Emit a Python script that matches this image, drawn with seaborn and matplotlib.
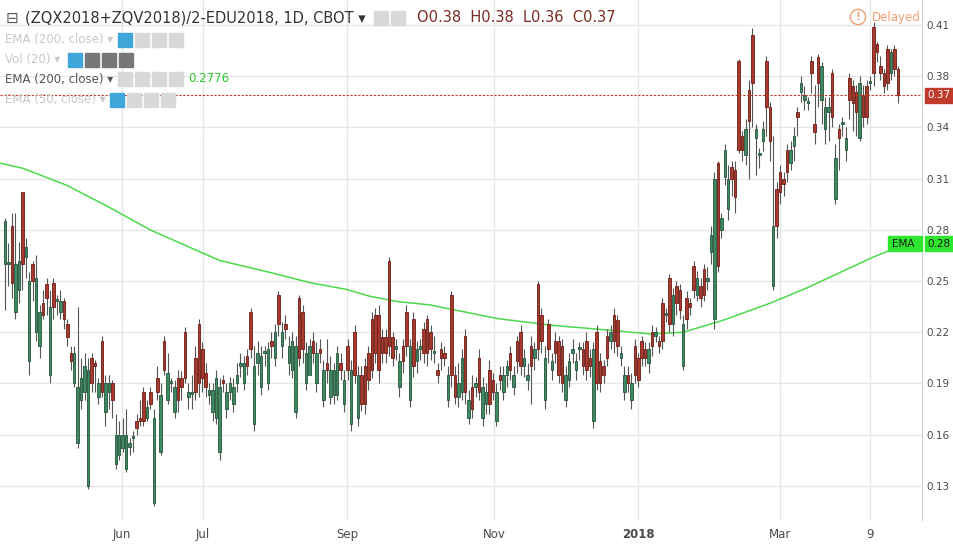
import numpy as np
import pandas as pd
import seaborn as sns
import matplotlib.pyplot as plt
from matplotlib.patches import Rectangle

# prices in thousandths (one row per daily bar)
opens = [270,270,292,242,255,312,274,213,270,230, 222,247,258,205,259,248,242,248,235,218,
         200,165,190,195,140,215,212,192,225,183, 195,200,153,158,162,150,163,168,178,180,
         195,180,195,130,203,160,225,190,200,183, 203,203,230,192,194,215,235,220,206,193,
         183,180,160,202,185,195,188,200,210,200, 216,242,176,212,198,218,200,225,215,252,
         222,235,212,208,183,250,242,200,205,225, 200,220,190,212,192,193,193,212,188,222,
         176,230,180,205,210,218,238,240,240,227, 227,272,227,220,198,222,242,190,238,213,
         220,232,238,230,218,208,220,218,190,252, 205,192,195,228,180,198,198,215,180,188,
         208,202,178,205,195,205,218,198,225,230, 210,202,222,215,258,240,190,235,208,225,
         225,222,190,202,218,208,220,220,225,215, 178,230,213,210,228,225,240,237,215,195,
         205,190,222,215,225,220,212,230,228,225, 247,240,262,235,257,255,210,250,247,269,
         252,257,267,260,277,238,329,290,321,302, 327,325,389,345,334,372,404,344,334,342,
         389,362,257,314,324,320,337,329,339,359, 371,366,364,389,352,391,366,349,359,382,
         308,349,352,337,379,374,371,344,369,374, 376,409,399,386,382,396,382,396,384]
closes = [295,270,259,270,272,270,280,260,260,262, 242,240,250,245,245,248,248,238,227,213,
          218,198,203,210,208,200,210,200,195,200, 200,190,170,170,170,170,165,168,174,178,
          178,186,188,180,195,193,208,206,200,198, 190,198,203,195,194,195,200,203,198,196,
          196,203,198,200,195,200,198,205,212,212, 210,220,210,218,216,218,220,222,230,235,
          230,232,222,225,222,215,220,218,222,218, 218,218,208,208,208,208,218,208,202,208,
          208,205,205,188,188,202,208,218,208,218, 218,222,215,222,213,213,222,222,210,220,
          222,218,218,220,218,205,215,215,205,205, 192,200,215,195,190,185,200,195,198,195,
          188,195,195,202,205,210,208,205,213,210, 215,205,210,220,220,225,215,220,213,218,
          205,200,205,213,220,213,220,210,208,210, 220,200,200,205,215,230,225,222,218,205,
          200,200,205,202,215,215,220,222,230,222, 225,240,235,252,247,243,235,238,245,255,
          262,250,252,262,287,320,269,297,337,320, 320,309,337,337,349,354,376,349,334,349,
          362,342,292,292,312,317,324,337,345,356, 376,369,364,382,347,376,386,362,362,356,
          332,344,352,344,366,364,359,376,356,356, 376,382,394,382,374,376,394,384,369]
highs = [297,282,300,300,283,312,285,265,272,275, 246,255,262,255,262,252,255,250,238,222,
         222,245,215,218,215,218,214,203,228,205, 205,202,182,178,180,185,168,172,182,190,
         198,190,198,185,210,200,228,218,203,202, 208,207,233,200,205,222,238,224,212,200,
         200,208,203,205,200,204,203,212,218,216, 220,244,222,225,222,222,224,230,235,254,
         236,240,228,230,228,252,246,224,226,230, 224,226,214,226,216,212,222,218,208,226,
         214,234,210,210,215,222,242,244,246,232, 232,274,230,226,218,226,246,226,242,225,
         226,236,240,234,228,212,224,222,210,254, 210,212,220,232,196,205,204,220,204,200,
         214,206,200,210,210,214,222,210,228,234, 220,212,228,224,260,244,222,238,218,230,
         228,226,210,218,226,218,224,224,230,220, 224,234,218,214,232,234,244,240,222,210,
         210,206,226,218,228,224,224,234,233,228, 250,244,264,256,260,258,240,254,250,272,
         266,262,270,268,292,324,330,300,340,328, 330,330,390,348,355,378,408,352,338,354,
         392,365,345,318,328,324,340,342,350,362, 380,374,368,392,375,393,388,368,368,384,
         340,352,356,350,382,378,375,380,375,378, 380,412,400,392,384,398,396,398,386]
lows = [243,257,250,238,247,255,262,205,248,225, 215,238,240,200,238,240,238,232,222,208,
        198,162,185,190,138,195,195,188,192,175, 185,180,150,155,160,148,158,160,170,175,
        175,178,185,128,190,158,205,188,195,180, 183,190,200,185,185,190,192,195,192,188,
        178,176,155,195,180,190,183,195,204,196, 205,215,172,205,193,210,196,215,210,228,
        215,226,205,203,180,210,212,196,210,212, 195,212,186,200,188,188,190,202,183,202,
        172,200,175,184,182,196,203,212,200,212, 212,216,210,214,192,206,216,186,204,206,
        214,212,210,214,212,200,208,210,186,198, 188,186,190,188,176,180,192,190,175,182,
        182,190,175,196,190,198,202,193,206,205, 204,196,188,208,214,218,185,212,202,212,
        200,195,186,198,212,202,214,205,202,204, 174,196,195,200,210,220,218,216,210,190,
        195,185,200,198,210,210,206,216,224,218, 220,236,230,228,240,238,208,232,240,250,
        248,245,248,255,270,232,265,285,316,296, 310,300,335,330,328,320,350,322,326,336,
        345,330,255,285,305,310,318,325,330,345, 365,360,360,370,340,362,352,340,342,350,
        305,325,345,330,355,348,345,342,350,352, 372,374,388,378,370,372,378,380,364]

# EMA(200) line read at a few bar positions
ema_idx = [-1.4, 5.2, 17.9, 30.3, 41.9, 56.4, 62.1, 76.6, 88.2, 98.8, 105.5, 113.3, 122.8,
           142.2, 158.4, 175.7, 186.4, 196, 207.5, 221.1, 231.8, 241.3, 250.9, 255.8]
ema_val = [329, 326, 316, 303, 290, 277, 272, 265, 259, 255, 251, 248, 246,
           238, 234, 231, 229, 230, 237, 247, 256, 265, 274, 278]

tick_pos = [33.8, 57.2, 98.8, 141.3, 183, 224, 250]
tick_labels = ['Jun', 'Jul', 'Sep', 'Nov', '2018', 'Mar', '9']
price_ticks = [410, 380, 350, 320, 290, 260, 230, 200, 170, 140]
price_labels = ['0.41', '0.38', '0.34', '0.31', '0.28', '0.25', '0.22', '0.19', '0.16', '0.13']

df = pd.DataFrame({'o': opens, 'c': closes, 'h': highs, 'l': lows}) / 1000
df['i'] = np.arange(len(df))
df['up'] = df['c'] >= df['o']
ema = pd.DataFrame({'i': ema_idx, 'v': np.array(ema_val) / 1000})

sns.set_style('white')
W, H = 954, 547
fig = plt.figure(figsize=(W / 100, H / 100), dpi=100)
ax = fig.add_axes([0, 27 / H, 922 / W, 1 - 27 / H])
ax.set_xlim(-1.45, 265)
ax.set_ylim(0.120, 0.4246)

grid = '#e6e6e6'
for t in tick_pos:
    ax.axvline(t, color=grid, lw=1, zorder=0)
for p in price_ticks:
    ax.axhline(p / 1000, color=grid, lw=1, zorder=0)

sns.lineplot(data=ema, x='i', y='v', color='#4cd94c', lw=1.1, ax=ax, zorder=2)

up_fill, up_edge = '#3f8a63', '#24533b'
dn_fill, dn_edge = '#a8392c', '#6a1c16'
ax.vlines(df['i'], df['l'], df['h'], color='#555555', lw=0.8, zorder=3)
body = (df['c'] - df['o']).abs().clip(lower=0.0012)
bottom = df[['o', 'c']].min(axis=1)
ax.bar(df['i'], body, bottom=bottom, width=0.72,
       color=np.where(df['up'], up_fill, dn_fill),
       edgecolor=np.where(df['up'], up_edge, dn_edge), lw=0.6, zorder=4)

last = closes[-1] / 1000
ax.axhline(last, color='#c0392b', lw=0.8, ls=(0, (2, 1.5)), zorder=5)

ax.set_xticks(tick_pos)
ax.set_xticklabels(tick_labels, fontsize=8.5, color='#4a4a4a')
ax.get_xticklabels()[4].set_fontweight('bold')
ax.yaxis.tick_right()
ax.set_yticks([p / 1000 for p in price_ticks])
ax.set_yticklabels(price_labels, fontsize=7.5, color='#4a4a4a')
ax.tick_params(axis='y', length=0, pad=3.5)
ax.tick_params(axis='x', length=0, pad=6)
ax.set_xlabel('')
ax.set_ylabel('')
for s in ['top', 'left', 'bottom']:
    ax.spines[s].set_visible(False)
ax.spines['right'].set_color('#d0d0d0')


def fx(px):
    return px / W


def fy(py):
    return 1 - py / H


# right-side price labels
def box(x, y, w, h, color, text, tc='white', tx=2):
    fig.patches.append(Rectangle((fx(x), fy(y + h / 2)), w / W, h / H, color=color,
                                 transform=fig.transFigure, zorder=10))
    fig.text(fx(x + tx), fy(y), text, color=tc, fontsize=7.5, va='center', zorder=11)


box(925, 95, 29, 15, '#c0392b', '0.37')
box(925, 244, 29, 15, '#2ee62e', '0.28', tc='#1a1a1a')
box(888, 244, 34, 15, '#2ee62e', 'EMA', tc='#1a1a1a', tx=4)

# header and indicator legend
fig.text(fx(6), fy(18), '\u229f', fontsize=11, color='#555555', va='center')
fig.text(fx(25), fy(18), '(ZQX2018+ZQV2018)/2-EDU2018, 1D, CBOT \u25be', fontsize=10.5,
         color='#333333', va='center')
fig.text(fx(417), fy(18), 'O0.38  H0.38  L0.36  C0.37', fontsize=10.5, color='#7b2b22', va='center')
rows = [(40, 'EMA (200, close) \u25be', '#c8c8c8', 118),
        (60, 'Vol (20) \u25be', '#c8c8c8', 68),
        (79, 'EMA (200, close) \u25be', '#555555', 118),
        (100, 'EMA (50, close) \u25be', '#c8c8c8', 110)]
for y, label, col, ix in rows:
    fig.text(fx(5), fy(y), label, fontsize=8.5, color=col, va='center')
    for k in range(4):
        if k == 0 and y != 79:
            c = '#3ea6d8'
        elif y == 60:
            c = '#777777'
        else:
            c = '#d8d8d8'
        fig.patches.append(Rectangle((fx(ix + k * 17), fy(y + 7)), 14 / W, 14 / H, color=c,
                                     transform=fig.transFigure, zorder=10))
fig.text(fx(188), fy(79), '0.2776', fontsize=8.5, color='#2ecc2e', va='center')
for x in [374, 391]:
    fig.patches.append(Rectangle((fx(x), fy(25)), 14 / W, 14 / H, color='#d8d8d8',
                                 transform=fig.transFigure, zorder=10))
fig.text(fx(858), fy(17), '!', fontsize=7.5, color='#f0a070', va='center', ha='center',
         fontweight='bold',
         bbox=dict(boxstyle='circle,pad=0.25', fc='white', ec='#f0a070', lw=1))
fig.text(fx(872), fy(17), 'Delayed', fontsize=8.5, color='#f0a070', va='center')

fig.savefig('out.png', dpi=100)
